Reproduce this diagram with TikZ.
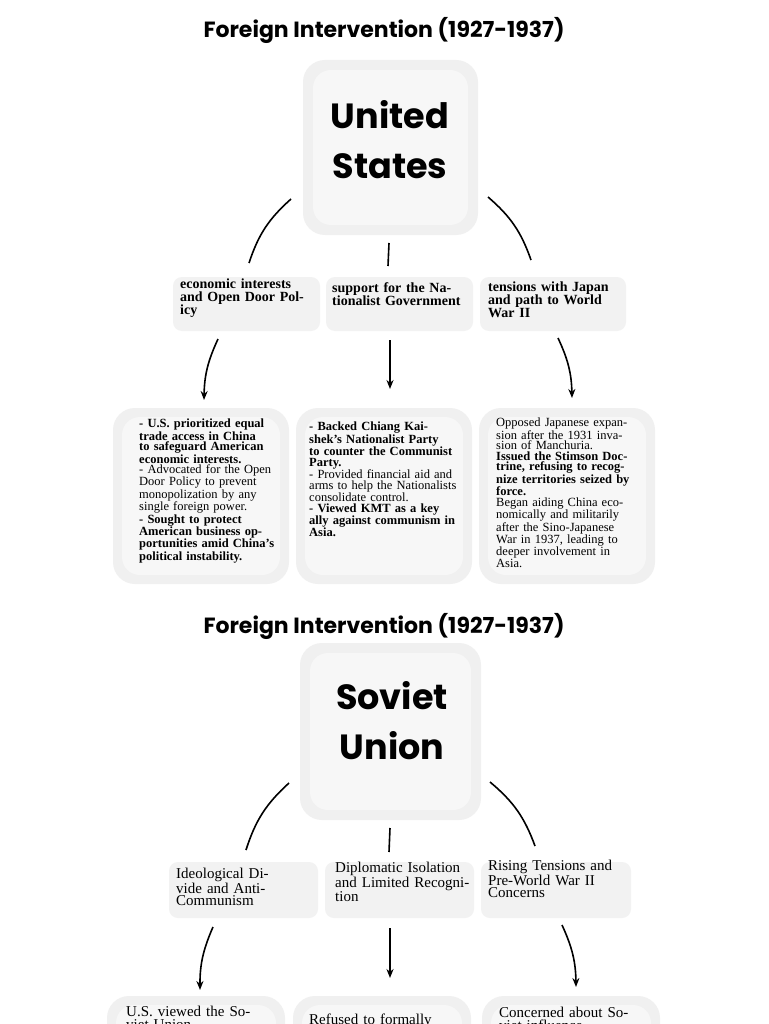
\documentclass[tikz,border=0pt]{standalone}
\usetikzlibrary{arrows.meta}
\usepackage{fontspec}
\setmainfont{Liberation Serif}
\newfontfamily\pop{Poppins}
\begin{document}
\begin{tikzpicture}[x=1pt,y=-1pt,
  outerbox/.style={fill=black!6,draw=none,rounded corners=22pt},
  innerbox/.style={fill=black!3,draw=none,rounded corners=18pt},
  midbox/.style={fill=black!5,draw=none,rounded corners=9pt},
  titletext/.style={font=\pop\bfseries\fontsize{22}{26}\selectfont},
  bigtext/.style={font=\pop\bfseries\fontsize{35}{50}\selectfont,align=center},
  midtext/.style={anchor=north west,inner sep=0pt,text width=135pt,align=left},
  bodytext/.style={anchor=north west,inner sep=0pt,text width=150pt,align=left,font=\fontsize{12.5}{10.5}\selectfont},
  conn/.style={line width=1.6pt},
  arr/.style={line width=1.6pt,-{Stealth[length=9pt,width=7pt]}}]
\clip (0,0) rectangle (768,1024);
\fill[white] (0,0) rectangle (768,1024);
% ===== Section 1 =====
\node[titletext] (t1) at (384,30) {Foreign Intervention (1927-1937)};
\fill[outerbox] (303,60) rectangle (478,235);
\fill[innerbox] (313,70) rectangle (468,225);
\node[bigtext] (us) at (390,140) {United\\ States};
\coordinate (c1a) at (291,199); \coordinate (c1b) at (249,263);
\coordinate (c2a) at (389,243); \coordinate (c2b) at (388,266);
\coordinate (c3a) at (488,197); \coordinate (c3b) at (531,260);
\draw[conn] (c1a) to[bend right=15] (c1b);
\draw[conn] (c2a) -- (c2b);
\draw[conn] (c3a) to[bend left=15] (c3b);
\fill[midbox] (173,277) rectangle (320,331);
\fill[midbox] (326,277) rectangle (473,331);
\fill[midbox] (480,277) rectangle (626,331);
\node[midtext,font=\bfseries\fontsize{14}{13}\selectfont] (m1) at (180,279) {economic interests and Open Door Policy};
\node[midtext,font=\bfseries\fontsize{14}{13}\selectfont] (m2) at (332,282) {support for the Nationalist Government};
\node[midtext,font=\bfseries\fontsize{14}{13}\selectfont] (m3) at (488,282) {tensions with Japan and path to World War II};
\coordinate (a1a) at (218,339); \coordinate (a1b) at (204,400);
\coordinate (a2a) at (390,340); \coordinate (a2b) at (390,389);
\coordinate (a3a) at (558,338); \coordinate (a3b) at (572,398);
\draw[arr] (a1a) to[bend right=12] (a1b);
\draw[arr] (a2a) -- (a2b);
\draw[arr] (a3a) to[bend left=12] (a3b);
\foreach \x in {113,296,479}{
  \fill[outerbox] (\x,408) rectangle ++(176,176);
  \fill[innerbox] (\x+9,417) rectangle ++(158,158);
}
\node[bodytext,text width=135pt] (b1) at (139,419) {\textbf{- U.S. prioritized equal trade access in China to safeguard American economic interests.}\\- Advocated for the Open Door Policy to prevent monopolization by any single foreign power.\\\textbf{- Sought to protect American business opportunities amid China's political instability.}};
\node[bodytext] (b2) at (309,422) {\textbf{- Backed Chiang Kai-shek's Nationalist Party to counter the Communist Party.}\\- Provided financial aid and arms to help the Nationalists consolidate control.\\\textbf{- Viewed KMT as a key ally against communism in Asia.}};
\node[bodytext,text width=140pt] (b3) at (496,418) {Opposed Japanese expansion after the 1931 invasion of Manchuria.\\\textbf{Issued the Stimson Doctrine, refusing to recognize territories seized by force.}\\Began aiding China economically and militarily after the Sino-Japanese War in 1937, leading to deeper involvement in Asia.};
% ===== Section 2 =====
\node[titletext] (t2) at (384,626) {Foreign Intervention (1927-1937)};
\fill[outerbox] (300,643) rectangle (481,820);
\fill[innerbox] (310,653) rectangle (471,810);
\node[bigtext] (su) at (392,721) {Soviet\\ Union};
\coordinate (d1a) at (289,783); \coordinate (d1b) at (246,850);
\coordinate (d2a) at (390,828); \coordinate (d2b) at (389,852);
\coordinate (d3a) at (490,782); \coordinate (d3b) at (535,846);
\draw[conn] (d1a) to[bend right=15] (d1b);
\draw[conn] (d2a) -- (d2b);
\draw[conn] (d3a) to[bend left=15] (d3b);
\fill[midbox] (169,862) rectangle (318,918);
\fill[midbox] (325,862) rectangle (474,918);
\fill[midbox] (481,862) rectangle (631,918);
\node[midtext,font=\fontsize{15}{12.5}\selectfont] (n1) at (176,868) {Ideological Divide and Anti-Communism};
\node[midtext,font=\fontsize{15}{12.5}\selectfont] (n2) at (335,862) {Diplomatic Isolation and Limited Recognition};
\node[midtext,font=\fontsize{15}{12.5}\selectfont] (n3) at (488,860) {Rising Tensions and Pre-World War II Concerns};
\coordinate (e1a) at (213,927); \coordinate (e1b) at (200,990);
\coordinate (e2a) at (390,928); \coordinate (e2b) at (390,978);
\coordinate (e3a) at (562,925); \coordinate (e3b) at (576,987);
\draw[arr] (e1a) to[bend right=12] (e1b);
\draw[arr] (e2a) -- (e2b);
\draw[arr] (e3a) to[bend left=12] (e3b);
\foreach \x in {107,293,482}{
  \fill[outerbox] (\x,996) rectangle ++(178,178);
  \fill[innerbox] (\x+9,1005) rectangle ++(160,160);
}
\node[midtext,font=\fontsize{15}{12.5}\selectfont] (p1) at (126,1006) {U.S. viewed the Soviet Union};
\node[midtext,font=\fontsize{15}{12.5}\selectfont] (p2) at (309,1014) {Refused to formally};
\node[midtext,font=\fontsize{15}{12.5}\selectfont] (p3) at (499,1007) {Concerned about Soviet influence};
\end{tikzpicture}
\end{document}
